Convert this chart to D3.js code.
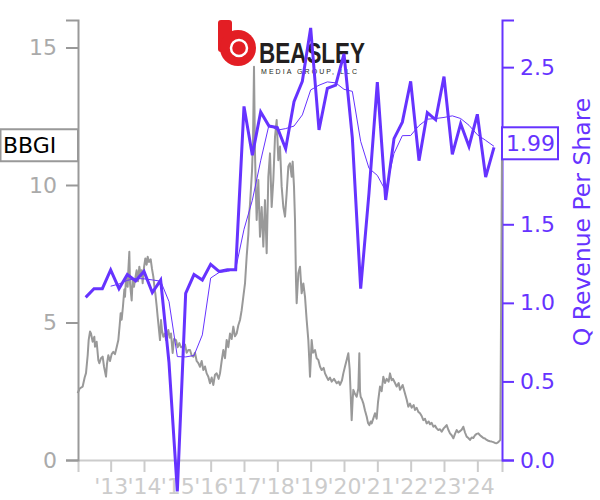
<!DOCTYPE html>
<html><head><meta charset="utf-8">
<script src="https://cdn.jsdelivr.net/npm/d3@7"></script>
<style>body{margin:0;background:#fff}svg{display:block}</style>
</head><body><svg id="c" width="600" height="500"></svg>
<script>
const ticker = "BBGI";
const rightAxisTitle = "Q Revenue Per Share";
const lastRevenueLabel = "1.99";

// close price: [decimal year, price]
const pricePoints = [
[2012.01,2.43],[2012.07,2.6],[2012.16,2.67],[2012.22,3.0],[2012.26,3.16],[2012.31,3.8],[2012.34,4.36],[2012.38,4.67],[2012.41,4.6],[2012.46,4.3],[2012.51,4.48],[2012.53,4.12],[2012.58,4.3],[2012.61,3.89],[2012.63,3.63],[2012.66,3.52],[2012.71,3.7],[2012.76,3.76],[2012.80,3.4],[2012.86,3.03],[2012.89,3.5],[2012.93,3.81],[2012.98,3.6],
[2013.03,3.85],[2013.08,3.93],[2013.13,3.85],[2013.18,4.1],[2013.23,4.36],[2013.27,4.9],[2013.30,5.34],[2013.33,5.1],[2013.37,5.6],[2013.41,6.2],[2013.43,5.94],[2013.46,6.6],[2013.51,6.3],[2013.53,6.9],[2013.56,7.57],[2013.58,6.43],[2013.63,5.8],[2013.66,6.6],[2013.70,6.3],[2013.73,6.55],[2013.78,6.9],[2013.82,6.5],[2013.86,7.03],[2013.90,6.7],[2013.93,6.9],[2013.96,6.43],
[2014.00,7.0],[2014.04,7.33],[2014.08,7.1],[2014.11,7.39],[2014.15,7.2],[2014.20,7.3],[2014.24,6.95],[2014.28,6.67],[2014.32,6.2],[2014.34,6.06],[2014.38,5.6],[2014.41,5.21],[2014.46,4.6],[2014.48,4.36],[2014.51,5.09],[2014.54,4.7],[2014.58,4.48],[2014.63,4.6],[2014.66,4.36],[2014.73,4.73],[2014.77,4.45],[2014.81,4.6],[2014.86,3.89],[2014.90,4.4],[2014.96,4.36],
[2015.01,4.1],[2015.06,4.25],[2015.11,4.1],[2015.18,4.12],[2015.23,4.2],[2015.28,3.9],[2015.33,4.0],[2015.38,4.0],[2015.43,3.8],[2015.48,3.76],[2015.53,3.9],[2015.58,3.6],[2015.63,3.52],[2015.68,3.39],[2015.73,3.6],[2015.78,3.27],[2015.83,3.4],[2015.88,3.15],[2015.93,3.03],[2015.98,2.79],
[2016.03,3.0],[2016.08,2.73],[2016.13,3.1],[2016.18,3.15],[2016.24,2.95],[2016.28,3.15],[2016.33,3.6],[2016.38,4.0],[2016.43,3.7],[2016.48,4.36],[2016.53,4.1],[2016.58,4.6],[2016.63,4.4],[2016.68,4.85],[2016.73,4.5],[2016.78,4.6],[2016.83,4.9],[2016.88,5.09],[2016.93,5.45],[2016.98,5.94],
[2017.03,6.42],[2017.08,7.4],[2017.13,8.2],[2017.16,9.0],[2017.18,9.3],[2017.21,9.9],[2017.24,10.5],[2017.27,11.6],[2017.30,14.3],[2017.33,11.15],[2017.36,9.6],[2017.38,8.73],[2017.43,10.18],[2017.48,8.12],[2017.53,9.2],[2017.58,7.76],[2017.63,9.45],[2017.68,7.52],[2017.73,10.3],[2017.78,11.15],[2017.83,9.2],[2017.88,10.18],[2017.93,11.75],[2017.98,12.36],
[2018.03,10.9],[2018.08,11.4],[2018.13,9.94],[2018.18,9.2],[2018.23,8.85],[2018.28,9.7],[2018.33,10.67],[2018.38,10.79],[2018.43,10.3],[2018.46,10.85],[2018.50,9.94],[2018.53,8.73],[2018.56,6.5],[2018.58,5.7],[2018.63,6.79],[2018.68,7.03],[2018.73,6.06],[2018.78,6.42],[2018.83,5.94],[2018.88,5.09],[2018.93,4.36],[2018.96,3.6],[2018.98,3.03],
[2019.03,4.36],[2019.07,3.9],[2019.13,4.0],[2019.18,3.7],[2019.23,3.64],[2019.28,3.4],[2019.33,3.27],[2019.39,3.35],[2019.43,3.15],[2019.49,3.0],[2019.53,2.91],[2019.58,3.0],[2019.63,2.85],[2019.70,2.95],[2019.78,2.79],[2019.84,2.85],[2019.88,2.73],[2019.94,2.9],[2019.98,3.15],
[2020.03,3.4],[2020.08,3.64],[2020.13,3.88],[2020.17,3.3],[2020.20,2.4],[2020.23,1.45],[2020.26,2.2],[2020.28,2.55],[2020.33,2.4],[2020.38,2.3],[2020.43,2.6],[2020.46,3.88],[2020.48,2.5],[2020.50,2.3],[2020.54,2.2],[2020.58,2.06],[2020.63,1.8],[2020.68,1.58],[2020.72,1.35],[2020.76,1.27],[2020.80,1.4],[2020.83,1.33],[2020.89,1.55],[2020.93,1.7],[2020.98,1.5],
[2021.02,2.1],[2021.08,2.67],[2021.13,2.5],[2021.18,3.03],[2021.23,2.8],[2021.28,2.95],[2021.34,2.85],[2021.38,3.15],[2021.43,2.9],[2021.47,2.95],[2021.53,2.8],[2021.58,2.67],[2021.64,2.8],[2021.68,2.55],[2021.76,2.73],[2021.83,2.42],[2021.88,2.2],[2021.93,1.94],[2021.98,2.05],
[2022.03,1.9],[2022.09,2.0],[2022.13,1.82],[2022.18,1.9],[2022.23,1.75],[2022.28,1.70],[2022.33,1.6],[2022.38,1.45],[2022.43,1.5],[2022.48,1.33],[2022.54,1.4],[2022.58,1.3],[2022.63,1.35],[2022.68,1.21],[2022.73,1.25],[2022.78,1.15],[2022.83,1.09],[2022.88,1.12],[2022.93,1.03],[2022.99,1.15],
[2023.03,1.2],[2023.08,1.27],[2023.13,1.1],[2023.18,0.97],[2023.23,0.9],[2023.28,0.79],[2023.33,0.95],[2023.38,1.09],[2023.43,1.0],[2023.48,1.05],[2023.53,1.1],[2023.58,1.21],[2023.63,1.0],[2023.68,0.85],[2023.73,0.8],[2023.78,0.73],[2023.83,0.82],[2023.88,0.8],[2023.93,0.9],[2023.98,0.95],
[2024.03,0.97],[2024.08,0.9],[2024.13,0.85],[2024.18,0.8],[2024.23,0.78],[2024.28,0.73],[2024.33,0.7],[2024.38,0.68],[2024.43,0.67],[2024.48,0.65],[2024.53,0.62],[2024.58,0.61],[2024.63,0.65],[2024.69,0.73],[2024.74,11.3]
];

const quarterYears = [2012.25,2012.5,2012.75,2013.0,2013.25,2013.5,2013.75,2014.0,2014.25,2014.5,2014.75,2015.0,2015.25,2015.5,2015.75,2016.0,2016.25,2016.5,2016.75,2017.0,2017.25,2017.5,2017.75,2018.0,2018.25,2018.5,2018.75,2019.0,2019.25,2019.5,2019.75,2020.0,2020.25,2020.5,2020.75,2021.0,2021.25,2021.5,2021.75,2022.0,2022.25,2022.5,2022.75,2023.0,2023.25,2023.5,2023.75,2024.0,2024.25,2024.5];
const revenuePerShare = [1.035,1.09,1.09,1.21,1.09,1.18,1.14,1.20,1.065,1.145,0.62,-0.20,1.06,1.18,1.145,1.245,1.20,1.21,1.21,2.25,1.94,2.215,2.125,2.115,1.98,2.28,2.41,2.75,2.10,2.365,2.385,2.585,2.05,1.09,1.70,2.405,1.655,2.045,2.15,2.41,1.905,2.21,2.165,2.44,1.945,2.14,1.995,2.20,1.80,1.99];
const revenueAvg4Q = [null,null,null,1.106,1.12,1.143,1.155,1.153,1.146,1.138,1.008,0.658,0.656,0.665,0.796,1.158,1.193,1.20,1.216,1.468,1.653,1.904,2.133,2.099,2.109,2.125,2.196,2.355,2.385,2.406,2.40,2.359,2.346,2.028,1.856,1.811,1.713,1.951,2.064,2.065,2.128,2.169,2.173,2.18,2.19,2.173,2.13,2.07,2.034,1.996];

const yearTicks = [2013,2014,2015,2016,2017,2018,2019,2020,2021,2022,2023,2024];
const yearTickLabels = ["'13","'14","'15","'16","'17","'18","'19","'20","'21","'22","'23","'24"];
const priceTicks = [0,5,10,15];
const revenueTicks = [0,0.5,1,1.5,2,2.5];
const revenueTickLabels = ["0.0","0.5","1.0","1.5","","2.5"]; // 2.0 sits under the last-value box

const PURPLE = "#6633ff", GRAY = "#999999";
const FONT = "DejaVu Sans, sans-serif";

const svg = d3.select("#c");
const x = d3.scaleLinear().domain([2012.02, 2024.74]).range([78, 502]);
const yL = d3.scaleLinear().domain([0, 16]).range([460, 20]);
const yR = d3.scaleLinear().domain([0, 2.8]).range([460, 20]);

function styleAxis(g, color, labelColor) {
  g.selectAll("path.domain").attr("stroke", color).attr("stroke-width", 2);
  g.selectAll(".tick line").attr("stroke", color).attr("stroke-width", 2);
  g.selectAll(".tick text").attr("fill", labelColor).style("font-family", FONT).style("font-size", "22px");
}

// bottom axis
const gx = svg.append("g").attr("transform", "translate(0,460)")
  .call(d3.axisBottom(x).tickValues(yearTicks).tickSize(12).tickPadding(6)
    .tickFormat((d, i) => yearTickLabels[i]));
styleAxis(gx, "#cccccc", "#cccccc");

// left axis
const gl = svg.append("g").attr("transform", "translate(78,0)")
  .call(d3.axisLeft(yL).tickValues(priceTicks).tickSize(12).tickPadding(9).tickFormat(d3.format("d")));
styleAxis(gl, GRAY, "#aaaaaa");

// right axis
const gr = svg.append("g").attr("transform", "translate(502,0)")
  .call(d3.axisRight(yR).tickValues(revenueTicks).tickSize(12).tickPadding(6)
    .tickFormat((d, i) => revenueTickLabels[i]));
styleAxis(gr, PURPLE, PURPLE);

// price line
svg.append("path").datum(pricePoints)
  .attr("fill", "none").attr("stroke", GRAY).attr("stroke-width", 2).attr("stroke-linejoin", "round")
  .attr("d", d3.line().x(d => x(d[0])).y(d => yL(d[1])));

// logo
const logo = svg.append("g");
logo.append("rect").attr("x", 218).attr("y", 20).attr("width", 14).attr("height", 32).attr("rx", 3).attr("fill", "#e31e24");
logo.append("circle").attr("cx", 238).attr("cy", 48).attr("r", 18).attr("fill", "#e31e24");
logo.append("circle").attr("cx", 239).attr("cy", 48).attr("r", 8).attr("fill", "none").attr("stroke", "#fff").attr("stroke-width", 2.5);
logo.append("text").attr("x", 259).attr("y", 63).text("BEASLEY")
  .attr("font-family", "Liberation Sans, Arial, sans-serif").attr("font-weight", "bold").attr("font-size", 30)
  .attr("textLength", 106).attr("lengthAdjust", "spacingAndGlyphs").attr("fill", "#231f20");
logo.append("text").attr("x", 261).attr("y", 74).text("MEDIA GROUP, LLC")
  .attr("font-family", "Liberation Sans, Arial, sans-serif").attr("font-size", 7)
  .attr("textLength", 96).attr("lengthAdjust", "spacing").attr("fill", "#231f20");

// revenue lines
const qData = quarterYears.map((q, i) => ({q, v: revenuePerShare[i], a: revenueAvg4Q[i]}));
svg.append("path").datum(qData)
  .attr("fill", "none").attr("stroke", PURPLE).attr("stroke-width", 1)
  .attr("d", d3.line().defined(d => d.a != null).x(d => x(d.q)).y(d => yR(d.a)));
svg.append("path").datum(qData)
  .attr("fill", "none").attr("stroke", PURPLE).attr("stroke-width", 3).attr("stroke-linejoin", "miter")
  .attr("d", d3.line().x(d => x(d.q)).y(d => yR(d.v)));

// right title
svg.append("text").attr("transform", "translate(590,222) rotate(-90)")
  .attr("text-anchor", "middle").attr("fill", PURPLE)
  .style("font-family", FONT).style("font-size", "23.5px").text(rightAxisTitle);

// last value boxes
const lastPrice = pricePoints[pricePoints.length - 1][1];
const bbY = yL(lastPrice) - 4;
svg.append("rect").attr("x", 0.5).attr("y", bbY - 16).attr("width", 77.5).attr("height", 32)
  .attr("fill", "#fff").attr("stroke", GRAY).attr("stroke-width", 2);
svg.append("text").attr("x", 3).attr("y", bbY + 8).text(ticker)
  .attr("fill", "#000").style("font-family", FONT).style("font-size", "22px");

const lastRev = revenuePerShare[revenuePerShare.length - 1];
const rvY = yR(lastRev) - 4;
svg.append("rect").attr("x", 502).attr("y", rvY - 16).attr("width", 56).attr("height", 32)
  .attr("fill", "#fff").attr("stroke", PURPLE).attr("stroke-width", 2);
svg.append("text").attr("x", 506).attr("y", rvY + 8).text(lastRevenueLabel)
  .attr("fill", PURPLE).style("font-family", FONT).style("font-size", "22px");
</script></body></html>
